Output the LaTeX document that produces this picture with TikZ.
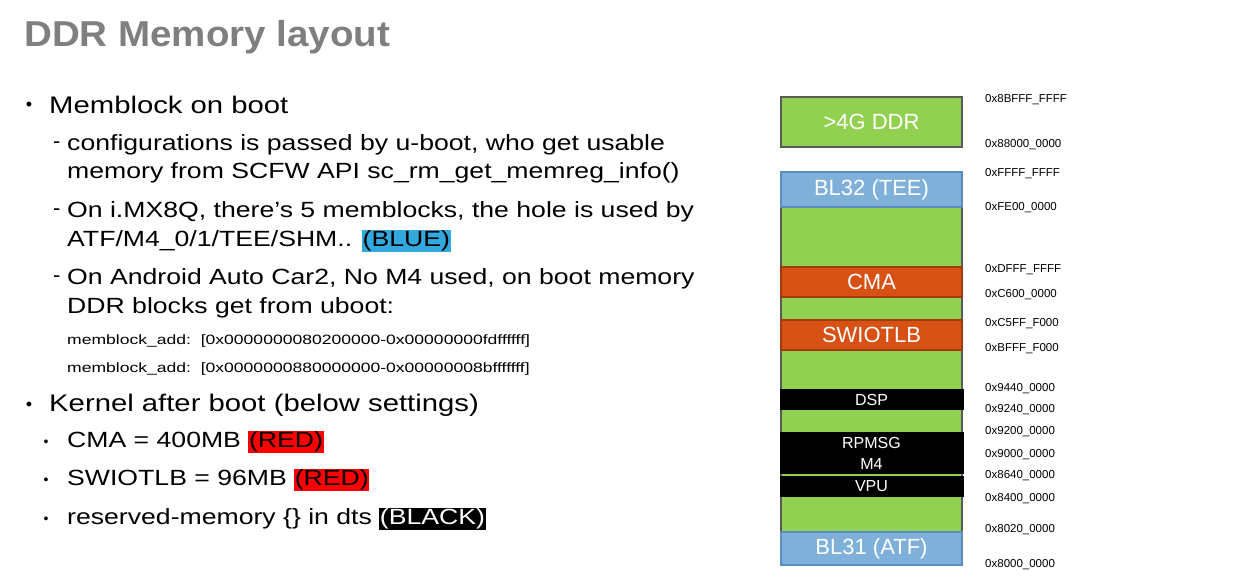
\documentclass[tikz,border=0pt]{standalone}
\usepackage{fontspec}
\setmainfont{Liberation Sans}
\newcommand{\widen}[2]{\scalebox{#1}[1]{#2}}
\newcommand{\hlbox}[2]{{\setlength{\fboxsep}{0.5pt}\colorbox{#1}{#2}}}
\begin{document}
\begin{tikzpicture}[x=1pt,y=-1pt,
  txt/.style={anchor=west,inner sep=0pt,font=\fontsize{24}{24}\selectfont},
  sub/.style={anchor=west,inner sep=0pt,font=\fontsize{22}{22}\selectfont},
  tiny/.style={anchor=west,inner sep=0pt,font=\fontsize{13.5}{13.5}\selectfont},
  addr/.style={anchor=west,inner sep=0pt,font=\fontsize{11.5}{11.5}\selectfont},
  blk/.style={text=white,font=\fontsize{22}{22}\selectfont},
  sblk/.style={text=white,font=\fontsize{16}{16}\selectfont}]
\definecolor{gr}{HTML}{92D050}
\definecolor{bl}{HTML}{7EB0DA}
\definecolor{blb}{HTML}{5B8DC0}
\definecolor{og}{HTML}{D65113}
\definecolor{ogb}{HTML}{A23A0E}
\definecolor{hb}{HTML}{33A8DC}
\definecolor{tg}{HTML}{7F7F7F}
\useasboundingbox (0,0) rectangle (1239,582);
\fill[white] (0,0) rectangle (1239,582);
\node[anchor=west,inner sep=0pt,text=tg,font=\bfseries\fontsize{36}{36}\selectfont] (title) at (24,37) {\widen{1.07}{DDR Memory layout}};
% left text
\node[anchor=center,font=\fontsize{18}{18}\selectfont] (b1) at (29,106) {•};
\node[txt] (t1) at (49,105) {\widen{1.22}{Memblock on boot}};
\node[sub] (d1) at (53,145) {-};
\node[sub] (t2) at (67,145) {\widen{1.21}{configurations is passed by u-boot, who get usable}};
\node[sub] (t3) at (67,173) {\widen{1.21}{memory from SCFW API sc\_rm\_get\_memreg\_info()}};
\node[sub] (d2) at (53,212) {-};
\node[sub] (t4) at (67,212) {\widen{1.21}{On i.MX8Q, there’s 5 memblocks, the hole is used by}};
\node[sub] (t5) at (67,241) {\widen{1.21}{ATF/M4\_0/1/TEE/SHM.. \hlbox{hb}{(BLUE)}}};
\node[sub] (d3) at (53,279) {-};
\node[sub] (t6) at (67,279) {\widen{1.21}{On Android Auto Car2, No M4 used, on boot memory}};
\node[sub] (t7) at (67,308) {\widen{1.21}{DDR blocks get from uboot:}};
\node[tiny] (m1) at (67,341) {\widen{1.3}{memblock\_add:\ \ [0x0000000080200000-0x00000000fdffffff]}};
\node[tiny] (m2) at (67,369) {\widen{1.3}{memblock\_add:\ \ [0x0000000880000000-0x00000008bfffffff]}};
\node[anchor=center,font=\fontsize{18}{18}\selectfont] (b2) at (29,406) {•};
\node[txt] (t8) at (49,405) {\widen{1.22}{Kernel after boot (below settings)}};
\node[anchor=center,font=\fontsize{14}{14}\selectfont] (b3) at (46,443) {•};
\node[sub] (t9) at (67,442) {\widen{1.21}{CMA = 400MB \hlbox{red}{(RED)}}};
\node[anchor=center,font=\fontsize{14}{14}\selectfont] (b4) at (46,481) {•};
\node[sub] (t10) at (67,480) {\widen{1.21}{SWIOTLB = 96MB \hlbox{red}{(RED)}}};
\node[anchor=center,font=\fontsize{14}{14}\selectfont] (b5) at (46,520) {•};
\node[sub] (t11) at (67,519) {\widen{1.21}{reserved-memory \{\} in dts \hlbox{black}{\textcolor{white}{(BLACK)}}}};
% right diagram
\draw[gr,fill=gr] (781,97) rectangle (962,147);
\draw[line width=2.5pt,black!65] (781,97) rectangle (962,147);
\node[blk] (ddr) at (871.5,122) {>4G DDR};
\fill[gr] (781,172) rectangle (962,565);
\draw[line width=2.5pt,black!65] (781,172) rectangle (962,565);
\draw[blb,line width=2.5pt,fill=bl] (781,172) rectangle (962,207);
\node[blk] (bl32) at (871.5,189.5) {BL32 (TEE)};
\draw[ogb,line width=2.5pt,fill=og] (781,267) rectangle (962,297);
\node[blk] (cma) at (871.5,282) {CMA};
\draw[ogb,line width=2.5pt,fill=og] (781,320) rectangle (962,350);
\node[blk] (swio) at (871.5,335) {SWIOTLB};
\fill[black] (780,389) rectangle (964,410);
\node[sblk] (dsp) at (871.5,399.5) {DSP};
\fill[black] (780,432) rectangle (964,474);
\node[sblk] (rp) at (871.5,443) {RPMSG};
\node[sblk] (m4) at (871.5,464) {M4};
\fill[black] (780,476) rectangle (964,497);
\node[sblk] (vpu) at (871.5,486.5) {VPU};
\draw[blb,line width=2.5pt,fill=bl] (781,532) rectangle (962,565);
\node[blk] (bl31) at (871.5,548.5) {BL31 (ATF)};
% addresses
\node[addr] (a1) at (985,100) {0x8BFFF\_FFFF};
\node[addr] (a2) at (985,145) {0x88000\_0000};
\node[addr] (a3) at (985,174) {0xFFFF\_FFFF};
\node[addr] (a4) at (985,208) {0xFE00\_0000};
\node[addr] (a5) at (985,270) {0xDFFF\_FFFF};
\node[addr] (a6) at (985,295) {0xC600\_0000};
\node[addr] (a7) at (985,324) {0xC5FF\_F000};
\node[addr] (a8) at (985,349) {0xBFFF\_F000};
\node[addr] (a9) at (985,389) {0x9440\_0000};
\node[addr] (a10) at (985,410) {0x9240\_0000};
\node[addr] (a11) at (985,432) {0x9200\_0000};
\node[addr] (a12) at (985,455) {0x9000\_0000};
\node[addr] (a13) at (985,476) {0x8640\_0000};
\node[addr] (a14) at (985,499) {0x8400\_0000};
\node[addr] (a15) at (985,530) {0x8020\_0000};
\node[addr] (a16) at (985,565) {0x8000\_0000};
\end{tikzpicture}
\end{document}
